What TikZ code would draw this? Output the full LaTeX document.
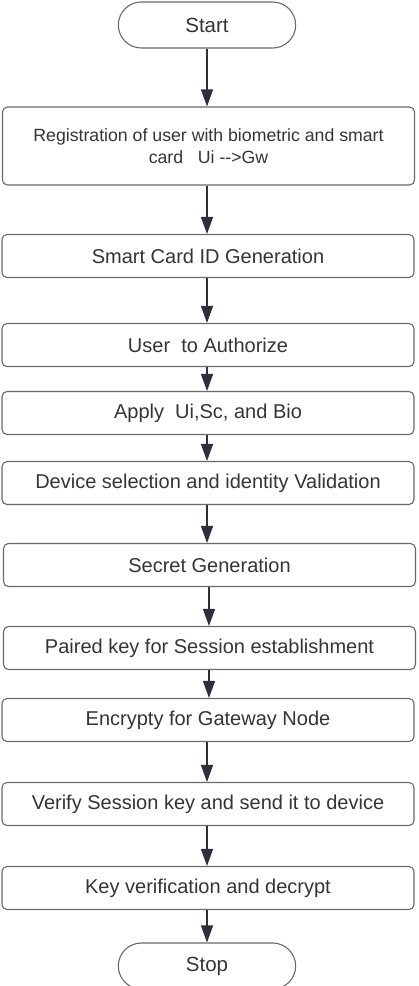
\documentclass[tikz,border=0pt]{standalone}
\usepackage{fontspec}
\setmainfont{Liberation Sans}
\usetikzlibrary{positioning, arrows.meta, shapes.misc}
\definecolor{linegray}{RGB}{105,105,108}
\definecolor{arrowdark}{RGB}{45,48,56}
\definecolor{textdark}{RGB}{52,52,56}

\begin{document}
\begin{tikzpicture}[x=1pt, y=-1pt,
        term/.style={rounded rectangle, draw=linegray, line width=1.1pt,
          minimum width=184pt, minimum height=46pt, text=textdark,
          font=\fontsize{20.5}{22}\selectfont},
        proc/.style={rectangle, rounded corners=5pt, draw=linegray, line width=1.1pt,
          minimum width=412pt, minimum height=43pt, text=textdark, align=center,
          font=\fontsize{20}{22}\selectfont},
        flow/.style={-{Triangle[length=17pt, width=12pt]}, draw=arrowdark,
          fill=arrowdark, line width=1.1pt}]
      \useasboundingbox (0,0) rectangle (418,986);
      \node[term] (start) at (207,25) {Start};
      \node[proc, minimum height=78pt, font=\fontsize{17.7}{21.5}\selectfont] (reg) at (208.5,146)
        {Registration of user with biometric and smart\\card\ \ \ Ui -{}->Gw};
      \node[proc] (scid) at (208,256) {Smart Card ID Generation};
      \node[proc] (auth) at (208,345) {User\ \ to Authorize};
      \node[proc] (apply) at (208,413) {Apply\ \ Ui,Sc, and Bio};
      \node[proc] (dev) at (208,483) {Device selection and identity Validation};
      \node[proc] (secret) at (209.5,565) {Secret Generation};
      \node[proc] (pair) at (209.5,648) {Paired key for Session establishment};
      \node[proc] (enc) at (208,720) {Encrypty for Gateway Node};
      \node[proc] (verify) at (208,804) {Verify Session key and send it to device};
      \node[proc] (keyv) at (208,888) {Key verification and decrypt};
      \node[term] (stop) at (207,966) {Stop};
      \draw [flow] (start.south -| 207,0) to (reg.north -| 207,0);
      \draw [flow] (reg.south -| 207,0) to (scid.north -| 207,0);
      \draw [flow] (scid.south -| 207,0) to (auth.north -| 207,0);
      \draw [flow] (auth.south -| 207,0) to (apply.north -| 207,0);
      \draw [flow] (apply.south -| 207,0) to (dev.north -| 207,0);
      \draw [flow] (dev.south -| 207,0) to (secret.north -| 207,0);
      \draw [flow] (secret.south -| 209,0) to (pair.north -| 209,0);
      \draw [flow] (pair.south -| 209,0) to (enc.north -| 209,0);
      \draw [flow] (enc.south -| 207,0) to (verify.north -| 207,0);
      \draw [flow] (verify.south -| 207,0) to (keyv.north -| 207,0);
      \draw [flow] (keyv.south -| 207,0) to (stop.north -| 207,0);
    \end{tikzpicture}
\end{document}
